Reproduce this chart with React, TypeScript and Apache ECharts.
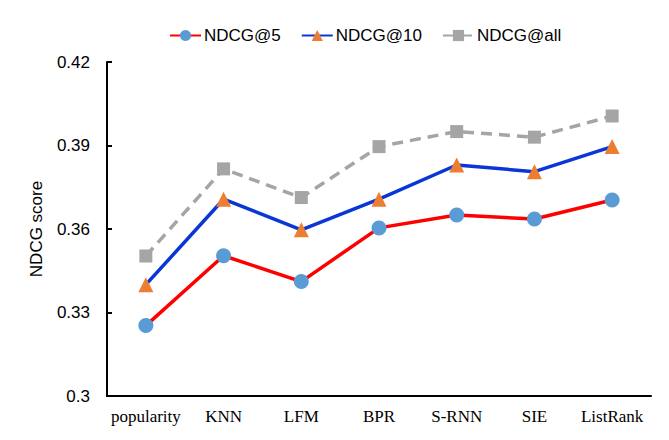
import React, { useEffect, useRef } from 'react';
import * as echarts from 'echarts';

const categories = ['popularity', 'KNN', 'LFM', 'BPR', 'S-RNN', 'SIE', 'ListRank'];
const ndcg5 = [0.3253, 0.3504, 0.3411, 0.3604, 0.365, 0.3636, 0.3704];
const ndcg10 = [0.340, 0.3707, 0.3597, 0.3707, 0.383, 0.3806, 0.3896];
const ndcgAll = [0.3503, 0.3816, 0.3713, 0.3896, 0.395, 0.393, 0.4006];
const yTicks = { min: 0.3, max: 0.42, interval: 0.03 };

const App: React.FC = () => {
  const chartRef = useRef<HTMLDivElement>(null);

  useEffect(() => {
    if (!chartRef.current) return;
    const chart = echarts.init(chartRef.current, null, { renderer: 'svg' });

    const option: echarts.EChartsOption = {
      animation: false,
      backgroundColor: '#ffffff',
      legend: {
        top: 22,
        left: 164,
        itemWidth: 31,
        itemHeight: 14,
        itemGap: 20,
        textStyle: { fontFamily: 'Liberation Sans, Arial, sans-serif', fontSize: 17, color: '#000', padding: [0, 0, 0, -2] },
        data: ['NDCG@5', 'NDCG@10', 'NDCG@all']
      },
      grid: { left: 107, right: 18, top: 62, bottom: 44 },
      xAxis: {
        type: 'category',
        data: categories,
        boundaryGap: true,
        axisLine: { lineStyle: { color: '#000', width: 2 } },
        axisTick: { inside: true, length: 5, lineStyle: { color: '#000', width: 2 } },
        axisLabel: {
          interval: 0,
          margin: 12,
          fontFamily: 'Liberation Serif, Times New Roman, serif',
          fontSize: 17,
          color: '#000'
        }
      },
      yAxis: {
        type: 'value',
        min: yTicks.min,
        max: yTicks.max,
        interval: yTicks.interval,
        name: 'NDCG score',
        nameLocation: 'middle',
        nameGap: 62,
        nameTextStyle: { fontFamily: 'Liberation Sans, Arial, sans-serif', fontSize: 17, color: '#000' },
        splitLine: { show: false },
        axisLine: { show: true, lineStyle: { color: '#000', width: 2 } },
        axisTick: { show: true, inside: true, length: 5, lineStyle: { color: '#000', width: 2 } },
        axisLabel: {
          margin: 17,
          fontFamily: 'Liberation Sans, Arial, sans-serif',
          fontSize: 17,
          color: '#000',
          formatter: (v: number) => String(parseFloat(v.toFixed(2)))
        }
      },
      series: [
        {
          name: 'NDCG@5',
          type: 'line',
          data: ndcg5,
          symbol: 'circle',
          symbolSize: 15,
          lineStyle: { color: '#ff0000', width: 3.5 },
          itemStyle: { color: '#5b9bd5' },
          z: 3
        },
        {
          name: 'NDCG@10',
          type: 'line',
          data: ndcg10,
          symbol: 'triangle',
          symbolSize: 15,
          lineStyle: { color: '#0a36d8', width: 3.5 },
          itemStyle: { color: '#ed7d31' },
          z: 2
        },
        {
          name: 'NDCG@all',
          type: 'line',
          data: ndcgAll,
          symbol: 'rect',
          symbolSize: 13,
          lineStyle: { color: '#a5a5a5', width: 3.5, type: [11, 7] },
          itemStyle: { color: '#a5a5a5' },
          z: 1
        }
      ]
    };

    chart.setOption(option);
    return () => chart.dispose();
  }, []);

  return <div ref={chartRef} style={{ width: 669, height: 440, margin: -8 }} />;
};

export default App;
